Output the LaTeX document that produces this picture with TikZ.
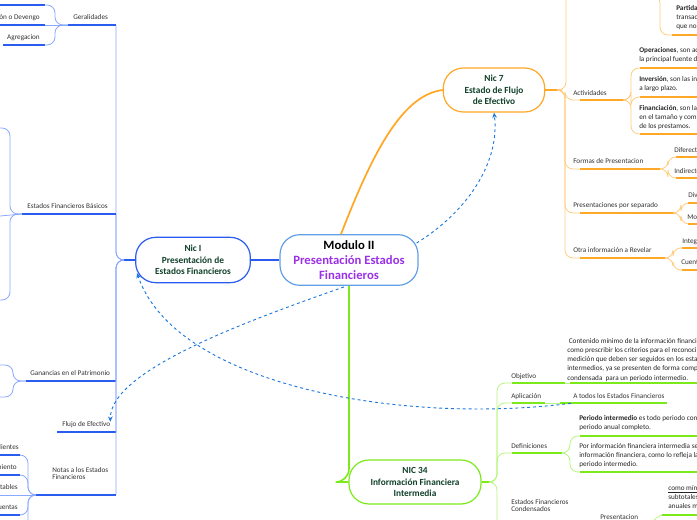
\documentclass[tikz,border=0pt]{standalone}
\usepackage{fontspec}
\setmainfont{Carlito}
\usetikzlibrary{arrows.meta}
\definecolor{bl}{HTML}{2A5CF0}
\definecolor{bll}{HTML}{8AA8FF}
\definecolor{orr}{HTML}{FFA726}
\definecolor{orl}{HTML}{FFCC80}
\definecolor{gr}{HTML}{7CEA1A}
\definecolor{grl}{HTML}{B8F57E}
\definecolor{dsh}{HTML}{1E78DC}
\definecolor{tg}{HTML}{10402A}
\definecolor{pu}{HTML}{9B30E8}
\tikzset{
 lab/.style={font=\fontsize{5.4}{6.8}\selectfont, text=black!80, inner sep=0pt, align=left},
 par/.style={font=\fontsize{5.4}{6.9}\selectfont, text=black!85, inner sep=0pt, align=left, anchor=north west},
 B/.style={draw=bl, line width=1.2pt, rounded corners=7},
 Bl/.style={draw=bll, line width=0.6pt, rounded corners=6},
 O/.style={draw=orr, line width=1.2pt, rounded corners=7},
 Ol/.style={draw=orl, line width=0.6pt, rounded corners=6},
 G/.style={draw=gr, line width=1.2pt, rounded corners=7},
 Gl/.style={draw=grl, line width=0.6pt, rounded corners=6},
 box/.style={rounded corners=15, line width=0.9pt, fill=white, align=center, font=\fontsize{7}{8.6}\selectfont\bfseries, text=tg},
 dl/.style={draw=dsh, dashed, dash pattern=on 2.2pt off 2.2pt, line width=0.7pt, -{Stealth[length=4pt,width=3.5pt]}}
}
\begin{document}
\begin{tikzpicture}[x=0.75pt,y=-0.75pt]
\useasboundingbox (0,0) rectangle (697,520);
% main nodes
\node[box, draw=dsh!70, minimum width=103.5pt, minimum height=38pt, font=\fontsize{9.5}{11}\selectfont\bfseries, text=black] (m) at (349,260) {Modulo II\\ \textcolor{pu}{Presentación Estados}\\ \textcolor{pu}{Financieros}};
\node[box, draw=bl, minimum width=86pt, minimum height=34pt] (n1) at (193,260) {Nic I\\Presentación de\\Estados Financieros};
\node[box, draw=orr, minimum width=76pt, minimum height=33pt] (n7) at (494,90) {Nic 7\\Estado de Flujo\\de Efectivo};
\node[box, draw=gr, minimum width=99pt, minimum height=33pt] (n34) at (415,482) {NIC 34\\Información Financiera\\Intermedia};
\coordinate (n1a) at (137,273);
% main connectors
\draw[draw=bl, line width=1.2pt] (m.west) -- (n1.east);
\draw[draw=orr, line width=1.3pt] (m.north) ++(-8,0) coordinate (mo) .. controls (370,160) and (400,95) .. (n7.west);
\draw[draw=gr, line width=1.2pt, rounded corners=10] (m.south) ++(0,0) coordinate (mg) -- (349,482) -- (n34.west);

% ---------- Nic I (left)
\coordinate (t1) at (124,260);
\draw[draw=bl, line width=0.8pt] (n1.west) -- (t1);
\draw[Bl] (t1) -| (116,25);
\draw[B] (116,25) -- (68,25);
\draw[Bl] (t1) -| (116,214); \draw[B] (116,214) -- (22,214);
\draw[Bl] (t1) -| (116,381); \draw[B] (116,381) -- (26,381);
\draw[Bl] (t1) -| (116,432); \draw[B] (116,432) -- (57,432);
\draw[Bl] (t1) -| (116,495); \draw[B] (116,495) -- (36,495);
\node[lab, anchor=base west] (g1) at (73,20) {Geralidades};
\node[lab, anchor=base west] (g2) at (27,209) {Estados Financieros Básicos};
\node[lab, anchor=base west] (g3) at (30,376) {Ganancias en el Patrimonio};
\node[lab, anchor=base west] (g4) at (62,427) {Flujo de Efectivo};
\node[lab, anchor=base west] (g5) at (52,480) {Notas a los Estados\\[-1pt]Financieros};
% Geralidades sub
\draw[Bl] (68,25) -- (55,25) |- (45,5); \draw[B] (45,5) -- (0,5);
\draw[Bl] (68,25) -- (45,25); \draw[B] (45,25) -- (0,25);
\draw[Bl] (68,25) -- (55,25) |- (45,45); \draw[B] (45,45) -- (3,45);
\node[lab, anchor=base east] (g11) at (40,20) {Base de Acumulación o Devengo};
\node[lab, anchor=base east] (g12) at (40,40) {Agregacion};
% EFB sub
\draw[Bl] (22,214) -- (10,214) |- (0,128);
\draw[Bl] (22,214) -- (10,214) |- (0,300);
\draw[Bl] (22,214) -- (0,216);
% Ganancias sub
\draw[Bl] (26,381) -- (13,381) |- (0,365);
\draw[Bl] (26,381) -- (13,381) |- (0,397);
% Notas sub
\draw[Bl] (36,495) -- (28,495) |- (20,455); \draw[B] (20,455) -- (0,455);
\draw[Bl] (36,495) -- (28,495) |- (20,475); \draw[B] (20,475) -- (0,475);
\draw[Bl] (36,495) -- (0,495);
\draw[Bl] (36,495) -- (28,495) |- (20,515); \draw[B] (20,515) -- (0,515);
\draw[Bl] (36,495) -- (28,495) -- (28,530);
\node[lab, anchor=base east] (h1) at (19,450) {Políticas contables y independientes};
\node[lab, anchor=base east] (h2) at (17,470) {Fuentes de incertidumbre en la estimación y Cumplimiento};
\node[lab, anchor=base east] (h3) at (18,490) {Estimaciones y juicios contables};
\node[lab, anchor=base east] (h4) at (18,510) {Detalle de cuentas};

% ---------- Nic 7 (right top)
\coordinate (t7) at (562,90);
\draw[draw=orr, line width=0.8pt] (n7.east) -- (t7);
\draw[Ol] (t7) -| (566,-5);
\draw[Ol] (t7) -- (565,90) |- (580,100); \draw[O] (580,100) -- (625,100);
\draw[Ol] (t7) -- (565,90) |- (580,169); \draw[O] (580,169) -- (660,169);
\draw[Ol] (t7) -- (565,90) |- (580,213); \draw[O] (580,213) -- (675,213);
\draw[Ol] (t7) -- (565,90) |- (580,258); \draw[O] (580,258) -- (665,258);
\node[lab, anchor=base west] (a1) at (573,96) {Actividades};
\node[lab, anchor=base west] (a2) at (573,164) {Formas de Presentacion};
\node[lab, anchor=base west] (a3) at (573,208) {Presentaciones por separado};
\node[lab, anchor=base west] (a4) at (573,253) {Otra información a Revelar};
% Partidas (parent above)
\draw[Ol] (650,-5) -- (660,-5) |- (672,35); \draw[O] (672,35) -- (697,35);
\node[par] (p0) at (676,5) {\textbf{Partidas no monetarias}\\transacciones\\ que no};
% Actividades sub
\draw[Ol] (625,100) -- (631,100) |- (640,68); \draw[O] (640,68) -- (697,68);
\draw[Ol] (625,100) -- (631,100) |- (640,97); \draw[O] (640,97) -- (697,97);
\draw[Ol] (625,100) -- (631,100) |- (640,134); \draw[O] (640,134) -- (697,134);
\node[par] (p1) at (639,47) {\textbf{Operaciones}, son actividades que\\la principal fuente de ingresos};
\node[par] (p2) at (639,76) {\textbf{Inversión}, son las inversiones\\a largo plazo.};
\node[par] (p3) at (639,105) {\textbf{Financiación}, son las actividades\\en el tamaño y composición del\\de los prestamos.};
% Formas sub
\draw[Ol] (660,169) -- (668,169) |- (676,157); \draw[O] (676,157) -- (697,157);
\draw[Ol] (660,169) -- (668,169) |- (676,178); \draw[O] (676,178) -- (697,178);
\node[lab, anchor=base west] (f1) at (674,153) {Diferecto};
\node[lab, anchor=base west] (f2) at (674,174) {Indirecto};
% Present sub
\draw[Ol] (675,213) -- (681,213) |- (688,203); \draw[O] (688,203) -- (697,203);
\draw[Ol] (675,213) -- (681,213) |- (688,224); \draw[O] (688,224) -- (697,224);
\node[lab, anchor=base west] (s1) at (688,198) {Dividendos};
\node[lab, anchor=base west] (s2) at (687,220) {Moneda};
% Otra sub
\draw[Ol] (665,258) -- (673,258) |- (682,248); \draw[O] (682,248) -- (697,248);
\draw[Ol] (665,258) -- (673,258) |- (682,270); \draw[O] (682,270) -- (697,270);
\node[lab, anchor=base west] (o1) at (682,244) {Integrantes};
\node[lab, anchor=base west] (o2) at (681,265) {Cuentas};

% ---------- NIC 34 (right bottom)
\coordinate (t34) at (493,482);
\draw[draw=gr, line width=0.8pt] (n34.east) -- (t34);
\draw[Gl] (t34) -- (497,482) |- (512,383); \draw[G] (512,383) -- (565,383);
\draw[Gl] (t34) -- (497,482) |- (512,403); \draw[G] (512,403) -- (545,403);
\draw[Gl] (t34) -- (497,482) |- (512,453); \draw[G] (512,453) -- (562,453);
\draw[Gl] (t34) -- (497,482) -- (497,530);
\node[lab, anchor=base west] (c1) at (511,379) {Objetivo};
\node[lab, anchor=base west] (c2) at (511,399) {Aplicación};
\node[lab, anchor=base west] (c3) at (511,449) {Definiciones};
\node[lab, anchor=base west] (c4) at (511,512) {Estados Financieros\\[-1pt]Condensados};
\node[lab, anchor=base west] (c5) at (600,519) {Presentacion};
% Objetivo text
\draw[Gl] (565,383) -- (570,383); \draw[G] (570,383) -- (697,383);
\node[par] (q1) at (567,338) {\ Contenido mínimo de la información financiera intermedia\\como prescribir los criterios para el reconocimiento\\medición que deben ser seguidos en los estados financieros\\intermedios, ya se presenten de forma completa o\\condensada \ para un periodo intermedio.};
% Aplicacion text
\draw[Gl] (545,403) -- (560,403); \draw[G] (560,403) -- (667,403);
\node[lab, anchor=base west] (q2) at (573,399) {A todos los Estados Financieros};
% Definiciones
\draw[Gl] (562,453) -- (570,453) |- (580,436); \draw[G] (580,436) -- (697,436);
\draw[Gl] (562,453) -- (570,453) |- (580,472); \draw[G] (580,472) -- (697,472);
\node[par] (q3) at (579,415) {\textbf{Periodo intermedio} es todo periodo contable menor que\\periodo anual completo.};
\node[par] (q4) at (579,443) {Por información financiera intermedia se entiende\\información financiera, como lo refleja la NIC\\periodo intermedio.};
\node[par] (q5) at (668,485) {\underline{como mínimo}\\subtotales\\anuales mas};
\draw[Gl] (650,530) -- (655,516) -- (662,515); \draw[G] (662,515) -- (697,515);

% ---------- dashed relations
\draw[dl] (m.north east) ++(-2,9) coordinate (d1) .. controls (470,210) and (500,160) .. (n7.south);
\draw[dl] (m.south) ++(-5,1) coordinate (d2) .. controls (250,320) and (110,370) .. (g4.north east);
\draw[dl] (q2.south west) ++(-2,4) coordinate (d3) .. controls (400,425) and (175,385) .. (n1a);
\end{tikzpicture}
\end{document}
